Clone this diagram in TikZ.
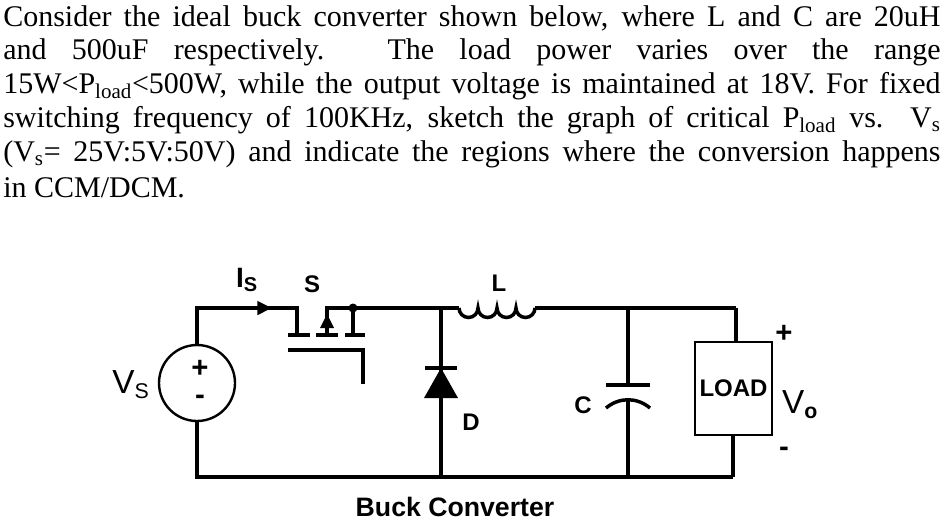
\documentclass[tikz,border=0pt]{standalone}
\usepackage{fontspec}
\setmainfont{Liberation Serif}
\newfontfamily\cirfont{Liberation Sans}
\usetikzlibrary{arrows.meta}
\tikzset{
  wire/.style={line width=2.6pt},
  lbl/.style={font=\cirfont\bfseries\fontsize{18}{20}\selectfont},
  sgn/.style={font=\cirfont\bfseries\fontsize{22}{22}\selectfont},
  para/.style={anchor=west, inner sep=0pt, font=\fontsize{22.5}{26}\selectfont}
}
\newcommand{\jline}[1]{\makebox[703pt][s]{#1}}
\begin{document}
\begin{tikzpicture}[x=0.75pt,y=-0.75pt]
  \useasboundingbox (0,0) rectangle (952,526);

  % Problem text
  \node[para] (t1) at (3,18)  {\jline{Consider the ideal buck converter shown below, where L and C are 20uH}};
  \node[para] (t2) at (3,52)  {\jline{and 500uF respectively. The load power varies over the range}};
  \node[para] (t3) at (3,86)  {\jline{15W<P\textsubscript{load}<500W, while the output voltage is maintained at 18V. For fixed}};
  \node[para] (t4) at (3,120) {\jline{switching frequency of 100KHz, sketch the graph of critical P\textsubscript{load} vs. V\textsubscript{s}}};
  \node[para] (t5) at (3,154) {\jline{(V\textsubscript{s}= 25V:5V:50V) and indicate the regions where the conversion happens}};
  \node[para] (t6) at (3,188) {in CCM/DCM.};

  % Corner points
  \coordinate (tl) at (197,308);
  \coordinate (bl) at (197,477);
  \coordinate (dr) at (297,308);
  \coordinate (dd) at (297,335);
  \coordinate (so) at (353,308);
  \coordinate (dt) at (441,308);
  \coordinate (db) at (441,477);
  \coordinate (li) at (459,308);
  \coordinate (lo) at (535,308);
  \coordinate (ct) at (628,308);
  \coordinate (cb) at (628,477);
  \coordinate (rt) at (736,308);
  \coordinate (rb) at (733,477);

  % Source
  \node[circle, draw, line width=1.8pt, minimum size=57pt, inner sep=0pt] (vs) at (197,383) {};
  \node[sgn] (pl) at (200,369) {+};
  \node[sgn] (mi) at (200,400) {-};
  \node[font=\cirfont\fontsize{25}{25}\selectfont] (vsl) at (131,385) {V\textsubscript{\fontsize{16}{16}\selectfont S}};

  % Wires
  \draw[wire] (vs.north) -- (tl) -- (dr) -- (dd);
  \draw[-{Triangle[length=11pt,width=10pt]}, wire] (tl) -- (272,308);
  \draw[wire] (vs.south) -- (bl) -- (db) -- (cb) -- (rb);
  \draw[wire] (so) -- (dt) -- (li);
  \draw[wire] (lo) -- (ct) -- (rt);

  % MOSFET
  \draw[wire] (288,335) -- (310,335);
  \draw[wire] (316,335) -- (338,335);
  \draw[wire] (345,335) -- (365,335);
  \draw[wire] (327,335) -- (327,308) -- (so);
  \draw[wire] (353,335) -- (so);
  \fill (320,328) -- (334,328) -- (327,314) -- cycle;
  \fill (so) circle (4.5);
  \draw[wire] (288,350) -- (363,350) -- (363,384);
  \node[font=\cirfont\bfseries\fontsize{21}{21}\selectfont] (il) at (247,280) {I\textsubscript{\fontsize{15}{15}\selectfont S}};
  \node[lbl] (sl) at (312,284) {S};

  % Diode
  \draw[wire] (dt) -- (db);
  \draw[wire] (425,368) -- (457,368);
  \fill (441,368) -- (424,398) -- (458,398) -- cycle;
  \node[lbl] (dl) at (471,422) {D};

  % Inductor
  \draw[wire] (li) foreach \i in {0,1,2,3} {arc[start angle=180, end angle=0, radius=9.5]};
  \node[lbl] (ll) at (499,283) {L};

  % Capacitor
  \draw[wire] (ct) -- (628,385);
  \draw[wire] (606,385) -- (650,385);
  \draw[wire] (606,408) to[out=40, in=140] (650,408);
  \draw[wire] (628,400) -- (cb);
  \node[lbl] (cl) at (583,405) {C};

  % Load
  \node[draw, line width=1.5pt, minimum width=56pt, minimum height=70pt, lbl] (ld) at (733.5,388.5) {LOAD};
  \draw[wire] (rt) -- (ld.north -| rt);
  \draw[wire] (ld.south -| rb) -- (rb);
  \node[sgn] (op) at (784,334) {+};
  \node[sgn] (om) at (784,452) {-};
  \node[font=\cirfont\fontsize{25}{25}\selectfont] (vol) at (800,405) {V\textsubscript{\bfseries\fontsize{16}{16}\selectfont o}};

  \node[font=\cirfont\bfseries\fontsize{20}{20}\selectfont] (title) at (455,507) {Buck Converter};
\end{tikzpicture}
\end{document}
